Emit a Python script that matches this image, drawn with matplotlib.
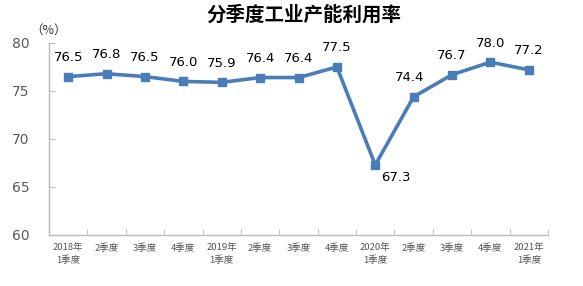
import matplotlib
matplotlib.use("Agg")
import matplotlib.pyplot as plt
import numpy as np

plt.rcParams['font.family'] = ['Noto Sans CJK SC', 'DejaVu Sans']

quarters = ["2018年\n1季度", "2季度", "3季度", "4季度",
            "2019年\n1季度", "2季度", "3季度", "4季度",
            "2020年\n1季度", "2季度", "3季度", "4季度",
            "2021年\n1季度"]
rates = [76.5, 76.8, 76.5, 76.0, 75.9, 76.4, 76.4, 77.5, 67.3, 74.4, 76.7, 78.0, 77.2]
labels = ["76.5", "76.8", "76.5", "76.0", "75.9", "76.4", "76.4", "77.5",
          "67.3", "74.4", "76.7", "78.0", "77.2"]

line_color = "#4A7DB8"

fig = plt.figure(figsize=(5.83, 2.86), dpi=100)
ax = fig.add_axes([49/583, 1 - 235/286, (548 - 49)/583, (235 - 43)/286])

x = np.arange(len(rates))
ax.plot(x, rates, color=line_color, lw=2.6, marker="s", ms=6,
        markerfacecolor=line_color, markeredgecolor=line_color)

for i, (v, t) in enumerate(zip(rates, labels)):
    dx, dy, va = 0, 9, "bottom"
    if i == 8:
        dx, dy, va = 15, -9, "center"
    elif i == 9:
        dx, dy = -3, 9
    ax.annotate(t, (i, v), xytext=(dx, dy), textcoords="offset points",
                ha="center", va=va, fontsize=9.5, color="black",
                family=["DejaVu Sans"])

ax.set_xlim(-0.5, len(rates) - 0.5)
ax.set_ylim(60, 80)
ax.set_yticks([60, 65, 70, 75, 80])
ax.set_xticks(x)
ax.set_xticklabels(quarters, fontsize=6.8, color="#555555", linespacing=1.4)
ax.set_xticks(np.arange(-0.5, len(rates)), minor=True)
ax.tick_params(axis="x", which="major", length=0, pad=6)
ax.tick_params(axis="x", which="minor", length=4, direction="in", color="#BBBBBB")
ax.tick_params(axis="y", length=4, direction="in", color="#BBBBBB",
               labelsize=10, labelcolor="#595959", pad=14)
for lbl in ax.get_yticklabels():
    lbl.set_family(["DejaVu Sans"])

for s in ["top", "right"]:
    ax.spines[s].set_visible(False)
for s in ["left", "bottom"]:
    ax.spines[s].set_color("#BBBBBB")
    ax.spines[s].set_linewidth(1.0)

fig.text(304/583, 1 - 15/286, "分季度工业产能利用率", ha="center", va="center",
         fontsize=14, color="black", fontweight="bold")
fig.text(49/583, 1 - 30/286, "（%）", ha="center", va="center",
         fontsize=9, color="#333333")

fig.savefig("out.png", dpi=100)
